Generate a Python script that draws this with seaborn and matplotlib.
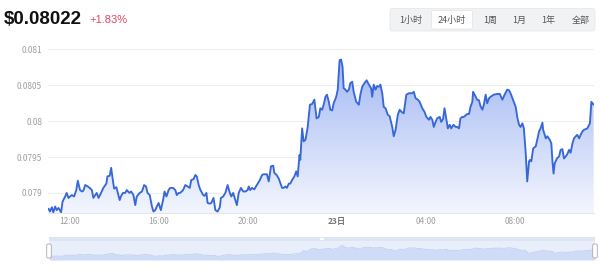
import numpy as np
import pandas as pd
import matplotlib
matplotlib.use("Agg")
import matplotlib.pyplot as plt
import seaborn as sns
from matplotlib.patches import FancyBboxPatch, Rectangle
from matplotlib.colors import LinearSegmentedColormap

# ---------------- data (minutes after 11:00 on the 22nd, price in USD) -------------
minutes = [2, 6, 11, 15, 20, 24, 29, 36, 40, 47, 51, 56, 60, 65, 71, 77, 81, 87, 92, 96,
           101, 105, 113, 119, 123, 128, 132, 137, 141, 150, 158, 161, 167, 171, 176, 179,
           185, 189, 194, 197, 203, 209, 213, 220, 225, 231, 236, 240, 248, 254, 260, 265,
           269, 275, 281, 285, 290, 294, 299, 305, 311, 315, 320, 326, 330, 338, 344, 348,
           353, 357, 365, 371, 377, 383, 387, 393, 398, 402, 407, 411, 419, 423, 428, 431,
           437, 441, 447, 452, 458, 464, 467, 473, 479, 485, 491, 495, 500, 504, 510, 515,
           521, 527, 533, 539, 542, 546, 551, 557, 564, 572, 578, 582, 591, 596, 602, 608,
           611, 617, 623, 627, 632, 636, 641, 645, 650, 654, 659, 665, 670, 674, 679,
           681, 686, 690, 695, 701, 707, 713, 719, 725, 731, 735, 740, 744, 749, 753, 758,
           762, 767, 771, 778, 782, 787, 791, 795, 798, 803, 807, 812, 816, 821, 825, 832,
           839, 843, 848, 854, 860, 866, 872, 875, 879, 884, 888, 893, 897, 902, 906, 911,
           917, 922, 929, 933, 938, 944, 949, 954, 960, 967, 974, 983, 987, 992, 998, 1003,
           1010, 1016, 1021, 1028, 1032, 1037, 1041, 1046, 1050, 1057, 1061, 1066, 1070,
           1075, 1079, 1084, 1088, 1094, 1100, 1104, 1109, 1113, 1118, 1122, 1131, 1136,
           1140, 1145, 1147, 1154, 1158, 1163, 1167, 1172, 1176, 1181, 1185, 1190, 1194,
           1203, 1212, 1219, 1226, 1232, 1239, 1244, 1248, 1257, 1262, 1266, 1271, 1275,
           1280, 1284, 1289, 1293, 1298, 1300, 1304, 1309, 1316, 1320, 1325, 1329, 1334,
           1336, 1343, 1347, 1354, 1358, 1361, 1364, 1367, 1373, 1379, 1383, 1388, 1392,
           1397, 1401, 1406, 1410, 1415, 1419, 1424, 1428, 1433, 1437, 1442, 1446, 1451,
           1455, 1462, 1466, 1469, 1472]
prices = [0.07878, 0.07874, 0.07880, 0.07873, 0.07881, 0.07876, 0.07879, 0.07873, 0.07888,
          0.07895, 0.07900, 0.07893, 0.07895, 0.07897, 0.07895, 0.07904, 0.07917, 0.07904,
          0.07902, 0.07903, 0.07911, 0.07910, 0.07907, 0.07904, 0.07893, 0.07897, 0.07900,
          0.07893, 0.07897, 0.07907, 0.07913, 0.07923, 0.07924, 0.07935, 0.07916, 0.07906,
          0.07908, 0.07900, 0.07890, 0.07895, 0.07900, 0.07900, 0.07904, 0.07900, 0.07902,
          0.07897, 0.07883, 0.07895, 0.07900, 0.07902, 0.07911, 0.07909, 0.07900, 0.07897,
          0.07881, 0.07874, 0.07876, 0.07881, 0.07886, 0.07876, 0.07890, 0.07902, 0.07895,
          0.07904, 0.07907, 0.07907, 0.07904, 0.07897, 0.07900, 0.07900, 0.07904, 0.07911,
          0.07909, 0.07907, 0.07918, 0.07919, 0.07925, 0.07923, 0.07911, 0.07905, 0.07897,
          0.07896, 0.07900, 0.07886, 0.07885, 0.07886, 0.07893, 0.07876, 0.07874, 0.07880,
          0.07893, 0.07895, 0.07900, 0.07911, 0.07900, 0.07895, 0.07900, 0.07893, 0.07883,
          0.07900, 0.07907, 0.07902, 0.07902, 0.07904, 0.07909, 0.07904, 0.07907, 0.07905,
          0.07911, 0.07918, 0.07925, 0.07926, 0.07926, 0.07916, 0.07937, 0.07938, 0.07928,
          0.07925, 0.07920, 0.07914, 0.07907, 0.07907, 0.07909, 0.07907, 0.07913, 0.07913,
          0.07918, 0.07923, 0.07930, 0.07923, 0.07953,
          0.07946, 0.07990, 0.07972, 0.07974, 0.07992, 0.08023, 0.08024, 0.08030, 0.08004,
          0.08006, 0.08018, 0.08016, 0.08023, 0.08034, 0.08037, 0.08027, 0.08016, 0.08015,
          0.08025, 0.08034, 0.08044, 0.08085, 0.08086, 0.08076, 0.08046, 0.08044, 0.08041,
          0.08044, 0.08053, 0.08055, 0.08041, 0.08027, 0.08023, 0.08037, 0.08048, 0.08053,
          0.08057, 0.08051, 0.08046, 0.08034, 0.08051, 0.08044, 0.08049, 0.08048, 0.08051,
          0.08039, 0.08020, 0.08018, 0.08009, 0.08007, 0.07992, 0.07979, 0.07988, 0.08009,
          0.08016, 0.08013, 0.08011, 0.08037, 0.08039, 0.08039, 0.08041, 0.08032, 0.08030,
          0.08027, 0.08018, 0.08013, 0.08006, 0.08002, 0.08006, 0.08002, 0.07992, 0.07999,
          0.08004, 0.08006, 0.07999, 0.08003, 0.08018, 0.08002, 0.07990, 0.07995, 0.07990,
          0.07995, 0.07992, 0.07992, 0.07990, 0.08004, 0.08006, 0.08006, 0.08010, 0.08010,
          0.08020, 0.08027, 0.08041, 0.08034, 0.08030, 0.08029, 0.08021, 0.08016, 0.08023,
          0.08037, 0.08025, 0.08032, 0.08034, 0.08037, 0.08038, 0.08038, 0.08030, 0.08037,
          0.08044, 0.08043, 0.08039, 0.08027, 0.08020, 0.08006, 0.07995, 0.07992, 0.07997,
          0.07990, 0.07955, 0.07916, 0.07944, 0.07946, 0.07944, 0.07962, 0.07965, 0.07974,
          0.07986, 0.07990, 0.07998, 0.07988, 0.07976, 0.07979, 0.07974, 0.07969, 0.07944,
          0.07927, 0.07941, 0.07948, 0.07951, 0.07960, 0.07961, 0.07948, 0.07951, 0.07954,
          0.07960, 0.07956, 0.07969, 0.07976, 0.07979, 0.07981, 0.07976, 0.07981, 0.07986,
          0.07988, 0.07989, 0.07990, 0.07997, 0.08027, 0.08025, 0.08023]

price_label = "$0.08022"
change_label = "+1.83%"
range_buttons = ["1小时", "24小时", "1周", "1月", "1年", "全部"]
selected_button = "24小时"
y_ticks = [0.079, 0.0795, 0.08, 0.0805, 0.081]
y_tick_labels = ["0.079", "0.0795", "0.08", "0.0805", "0.081"]
x_ticks = [60, 300, 540, 780, 1020, 1260]
x_tick_labels = ["12:00", "16:00", "20:00", "23日", "04:00", "08:00"]

# ---------------- styling -----------------------------------------------------------
sns.set_theme(style="white")
plt.rcParams["font.family"] = ["Noto Sans CJK SC", "DejaVu Sans"]

W, H = 600, 270
fig = plt.figure(figsize=(W / 100, H / 100), dpi=100)
fig.patch.set_facecolor("white")


def fr(x0, y0, x1, y1):
    return [x0 / W, 1 - y1 / H, (x1 - x0) / W, (y1 - y0) / H]


df = pd.DataFrame({"t": minutes, "p": prices})
line_color = "#3767d8"
x_lo, x_hi = 0, 1472
y_lo, y_hi = 0.07872, 0.0811

# ---------------- main chart --------------------------------------------------------
ax = fig.add_axes(fr(47.75, 42.3, 593.6, 213))
ax.set_facecolor("white")
ax.set_xlim(x_lo, x_hi)
ax.set_ylim(y_lo, y_hi)

poly = ax.fill_between(df["t"], df["p"], y_lo, color="none", lw=0)
cmap = LinearSegmentedColormap.from_list("g", ["#9ab2f2", "#c7d4f8", "#f3f6fe"])
grad = np.linspace(0, 1, 256).reshape(-1, 1)
im = ax.imshow(grad, extent=[x_lo, x_hi, y_lo, y_hi], aspect="auto", cmap=cmap,
               origin="upper", zorder=1)
im.set_clip_path(poly.get_paths()[0], transform=ax.transData)

sns.lineplot(data=df, x="t", y="p", ax=ax, color=line_color, lw=1.35, zorder=3)

ax.set_yticks(y_ticks, y_tick_labels)
ax.set_xticks(x_ticks, x_tick_labels)
ax.tick_params(axis="y", length=0, pad=4, labelsize=6, labelcolor="#a0a0a0")
ax.tick_params(axis="x", length=0, pad=3, labelsize=6, labelcolor="#a0a0a0")
for lab in ax.get_xticklabels():
    if lab.get_text() == "23日":
        lab.set_fontweight("bold")
        lab.set_color("#777777")
ax.yaxis.grid(True, color="#efefef", lw=0.8)
ax.xaxis.grid(False)
ax.set_axisbelow(True)
for s in ["top", "left", "right"]:
    ax.spines[s].set_visible(False)
ax.spines["bottom"].set_color("#e6e6e6")
ax.spines["bottom"].set_linewidth(0.8)
ax.set_xlabel("")
ax.set_ylabel("")

# ---------------- navigator mini chart ----------------------------------------------
nav = fig.add_axes(fr(49, 241, 595, 260))
nav.set_facecolor("#e9eefb")
nav.set_xlim(x_lo, x_hi)
nav.set_ylim(0.0780, 0.0818)
nav.fill_between(df["t"], df["p"], 0.0780, color="#d0dbf7", lw=0)
sns.lineplot(data=df, x="t", y="p", ax=nav, color="#bfcff3", lw=0.6)
nav.set_xticks([])
nav.set_yticks([])
nav.set_xlabel("")
nav.set_ylabel("")
for s in nav.spines.values():
    s.set_visible(False)

# ---------------- overlay (header, buttons, navigator frame) ------------------------
ov = fig.add_axes([0, 0, 1, 1], zorder=10)
ov.set_xlim(0, W)
ov.set_ylim(H, 0)
ov.axis("off")
ov.patch.set_alpha(0)

ov.text(4, 19.5, price_label.replace("$", r"\$"), fontsize=13.5, fontweight="bold",
        family=["Liberation Sans", "DejaVu Sans"], color="#111111", va="center", ha="left")
ov.text(89, 20, change_label, fontsize=8, color="#e0475f", va="center", ha="left",
        family=["Liberation Sans", "DejaVu Sans"])

ov.add_patch(FancyBboxPatch((390, 8.5), 205, 22.5, boxstyle="round,pad=0,rounding_size=2",
                            fc="#f1f2f4", ec="#e4e5e8", lw=0.5))
btn_x = [411, 452, 490, 519, 548, 581]
for name, bx in zip(range_buttons, btn_x):
    if name == selected_button:
        ov.add_patch(FancyBboxPatch((bx - 20.5, 10.5), 41, 18.5,
                                    boxstyle="round,pad=0,rounding_size=2",
                                    fc="white", ec="#e2e3e6", lw=0.5))
    ov.text(bx, 20, name, fontsize=6.5, color="#555555", ha="center", va="center")

ov.add_patch(Rectangle((49, 237), 546, 4, fc="#dde4f6", ec="none"))
ov.add_patch(Rectangle((320, 237.5), 4, 2.5, fc="white", ec="none"))
for hx in [49, 595]:
    ov.add_patch(FancyBboxPatch((hx - 2.3, 244), 4.6, 14,
                                boxstyle="round,pad=0,rounding_size=1.5",
                                fc="white", ec="#a9a9a9", lw=0.6))

fig.savefig("out.png", dpi=100, facecolor="white")
